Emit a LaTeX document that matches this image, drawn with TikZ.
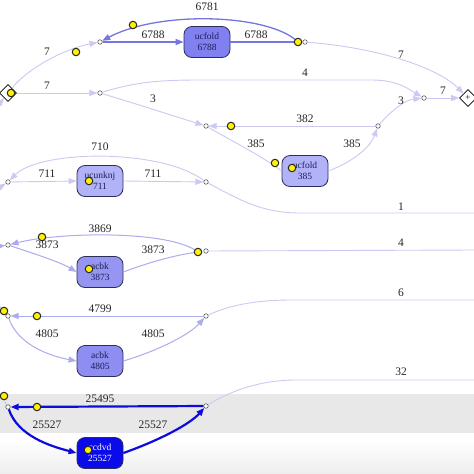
\documentclass[tikz,border=0pt]{standalone}
\usepackage{fontspec}
\setmainfont{Liberation Serif}
\usetikzlibrary{arrows.meta,shapes.geometric}
\definecolor{eL}{RGB}{202,202,242}
\definecolor{eM}{RGB}{172,172,236}
\definecolor{eD}{RGB}{118,118,226}
\definecolor{eS}{RGB}{12,12,222}
\definecolor{fLite}{RGB}{178,178,248}
\definecolor{fMid}{RGB}{150,150,242}
\definecolor{fDk}{RGB}{128,128,240}
\definecolor{fBlue}{RGB}{10,10,235}
\definecolor{nBord}{RGB}{45,45,90}
\definecolor{nText}{RGB}{30,30,90}
\begin{document}
\begin{tikzpicture}[x=1pt,y=-1pt,
  lbl/.style={font=\fontsize{11.5}{12}\selectfont, text=black!85, inner sep=0},
  nbox/.style={rounded corners=8pt, draw=nBord, line width=0.8pt, minimum width=46pt,
     minimum height=31pt, align=center, inner sep=1pt,
     font=\fontsize{9.5}{11}\selectfont, text=nText},
  ydot/.style={circle, fill=yellow, draw=black!85, line width=1pt, minimum size=7.5pt, inner sep=0},
  sdot/.style={circle, fill=white, draw=black!65, line width=0.6pt, minimum size=4.5pt, inner sep=0},
  dia/.style={diamond, draw=black, fill=white, line width=0.8pt, minimum size=17pt, inner sep=0},
  arr/.style={-{Triangle[length=8pt,width=6pt]}},
  lite/.style={draw=eL, line width=0.9pt},
  midl/.style={draw=eM, line width=1pt},
  dark/.style={draw=eD, line width=1.3pt},
  strong/.style={draw=eS, line width=2.2pt},
]
\useasboundingbox (0,0) rectangle (474,474);
\clip (0,0) rectangle (474,474);
\fill[white] (0,0) rectangle (474,474);
\fill[black!9] (0,394) rectangle (474,433);
\shade[top color=white, bottom color=black!7] (0,440) rectangle (474,474);

% ---------- nodes ----------
\node[dia] (D1) at (8,93) {};
\node[dia] (D2) at (468,98) {};
\node[font=\fontsize{9}{9}\selectfont, inner sep=0] (plus) at (D2.center) {+};
\node[nbox, fill=fDk] (N6788) at (207,42) {ucfold\\6788};
\node[nbox, fill=fLite] (N385) at (305,171) {ucfold\\385};
\node[nbox, fill=fLite] (N711) at (100,181) {ucunknj\\711};
\node[nbox, fill=fMid] (N3873) at (100,272) {acbk\\3873};
\node[nbox, fill=fDk!90] (N4805) at (100,361) {acbk\\4805};
\node[nbox, fill=fBlue, text=white] (Ncc) at (100,453) {ccdvd\\25527};

\node[sdot] (c1) at (100,42) {};
\node[sdot] (c2) at (305,42) {};
\node[sdot] (c3) at (100,93) {};
\node[sdot] (c4) at (206,126) {};
\node[sdot] (c5) at (378,126) {};
\node[sdot] (c6) at (424,98) {};
\node[sdot] (c7) at (8,182) {};
\node[sdot] (c9) at (206,182) {};
\node[sdot] (c8) at (8,245) {};
\node[sdot] (c10) at (206,251) {};
\node[sdot] (c11) at (8,316) {};
\node[sdot] (c12) at (206,316) {};
\node[sdot] (c13) at (8,407) {};
\node[sdot] (c14) at (206,406) {};

\coordinate (o1) at (-12,118);
\coordinate (o2) at (-12,195);
\coordinate (o3) at (-14,248);
\coordinate (o4) at (-6,300);
\coordinate (o5) at (-6,384);
\coordinate (e1) at (474,213);
\coordinate (e2) at (474,250);
\coordinate (e3) at (474,300);
\coordinate (e4) at (474,380);

% ---------- edges: top ----------
\draw[lite,arr] (o1) -- (D1);
\draw[lite,arr] (D1) .. controls (30,66) and (68,48) .. (c1);
\draw[dark,arr] (c1) -- (N6788.west);
\draw[dark] (N6788.east) -- (298,42);
\draw[dark,arr] (298,42) .. controls (270,14) and (160,10) .. (c1);
\draw[lite,arr] (c2) .. controls (380,48) and (438,68) .. (D2);
\draw[lite,arr] (D1) -- (c3);
\draw[lite,arr] (c3) .. controls (135,82) and (160,80) .. (200,80) -- (372,80)
   .. controls (398,80) and (410,90) .. (c6);
\draw[lite,arr] (c3) .. controls (140,105) and (180,118) .. (c4);
\draw[lite,arr] (c5) -- (c4);
\draw[lite] (c4) .. controls (230,140) and (262,156) .. (N385.west);
\draw[lite,arr] (N385.east) .. controls (352,162) and (370,148) .. (c5);
\draw[lite,arr] (c5) .. controls (392,110) and (405,100) .. (c6);
\draw[lite,arr] (c6) -- (D2);

% ---------- edges: second ----------
\draw[lite,arr] (o2) -- (c7);
\draw[lite,arr] (c7) -- (N711.west);
\draw[lite,arr] (N711.east) -- (c9);
\draw[lite,arr] (c9) .. controls (160,148) and (40,150) .. (c7);
\draw[lite] (c9) .. controls (240,200) and (262,213) .. (300,213) -- (e1);

% ---------- edges: third ----------
\draw[midl,arr] (o3) -- (c8);
\draw[midl,arr] (198,252) .. controls (170,230) and (60,232) .. (c8);
\draw[midl,arr] (c8) .. controls (35,254) and (60,262) .. (N3873.west);
\draw[midl] (N3873.east) .. controls (150,262) and (175,255) .. (198,252);
\draw[lite] (c10) -- (e2);

% ---------- edges: fourth ----------
\draw[lite] (o4) -- (c11);
\draw[midl,arr] (c12) -- (c11);
\draw[midl,arr] (c11) .. controls (18,345) and (50,356) .. (N4805.west);
\draw[midl,arr] (N4805.east) .. controls (160,350) and (190,334) .. (c12);
\draw[lite] (c12) .. controls (232,304) and (260,300) .. (292,300) -- (e3);

% ---------- edges: fifth ----------
\draw[lite] (o5) -- (c13);
\draw[strong,arr] (c14) -- (c13);
\draw[strong,arr] (c13) .. controls (18,436) and (50,446) .. (Ncc.west);
\draw[strong,arr] (Ncc.east) .. controls (160,440) and (190,424) .. (c14);
\draw[lite] (c14) .. controls (232,390) and (262,380) .. (296,380) -- (e4);

% ---------- yellow dots ----------
\node[ydot] (yd1) at (11,93) {};
\node[ydot] (yd2) at (76,52) {};
\node[ydot] (yd3) at (133,25) {};
\node[ydot] (yd4) at (298,42) {};
\node[ydot] (yd5) at (231,126) {};
\node[ydot] (yd6) at (275,163) {};
\node[ydot] (yd7) at (292,168) {};
\node[ydot] (yd8) at (89,181) {};
\node[ydot] (yd9) at (42,237) {};
\node[ydot] (yd10) at (89,269) {};
\node[ydot] (yd11) at (198,252) {};
\node[ydot] (yd12) at (4,311) {};
\node[ydot] (yd13) at (37,316) {};
\node[ydot] (yd14) at (4,396) {};
\node[ydot] (yd15) at (37,407) {};
\node[ydot] (yd16) at (88,450) {};

% ---------- labels ----------
\node[lbl] (l1) at (207,7) {6781};
\node[lbl] (l2) at (47,52) {7};
\node[lbl] (l3) at (153,35) {6788};
\node[lbl] (l4) at (256,35) {6788};
\node[lbl] (l5) at (401,55) {7};
\node[lbl] (l6) at (47,86) {7};
\node[lbl] (l7) at (305,73) {4};
\node[lbl] (l8) at (153,99) {3};
\node[lbl] (l9) at (305,119) {382};
\node[lbl] (l10) at (256,144) {385};
\node[lbl] (l11) at (352,144) {385};
\node[lbl] (l12) at (401,101) {3};
\node[lbl] (l13) at (443,91) {7};
\node[lbl] (l14) at (100,147) {710};
\node[lbl] (l15) at (47,174) {711};
\node[lbl] (l16) at (153,174) {711};
\node[lbl] (l17) at (401,207) {1};
\node[lbl] (l18) at (100,229) {3869};
\node[lbl] (l19) at (47,245) {3873};
\node[lbl] (l20) at (153,250) {3873};
\node[lbl] (l21) at (401,243) {4};
\node[lbl] (l22) at (100,309) {4799};
\node[lbl] (l23) at (47,334) {4805};
\node[lbl] (l24) at (153,334) {4805};
\node[lbl] (l25) at (401,293) {6};
\node[lbl] (l26) at (100,399) {25495};
\node[lbl] (l27) at (47,425) {25527};
\node[lbl] (l28) at (153,425) {25527};
\node[lbl] (l29) at (401,372) {32};
\end{tikzpicture}
\end{document}
